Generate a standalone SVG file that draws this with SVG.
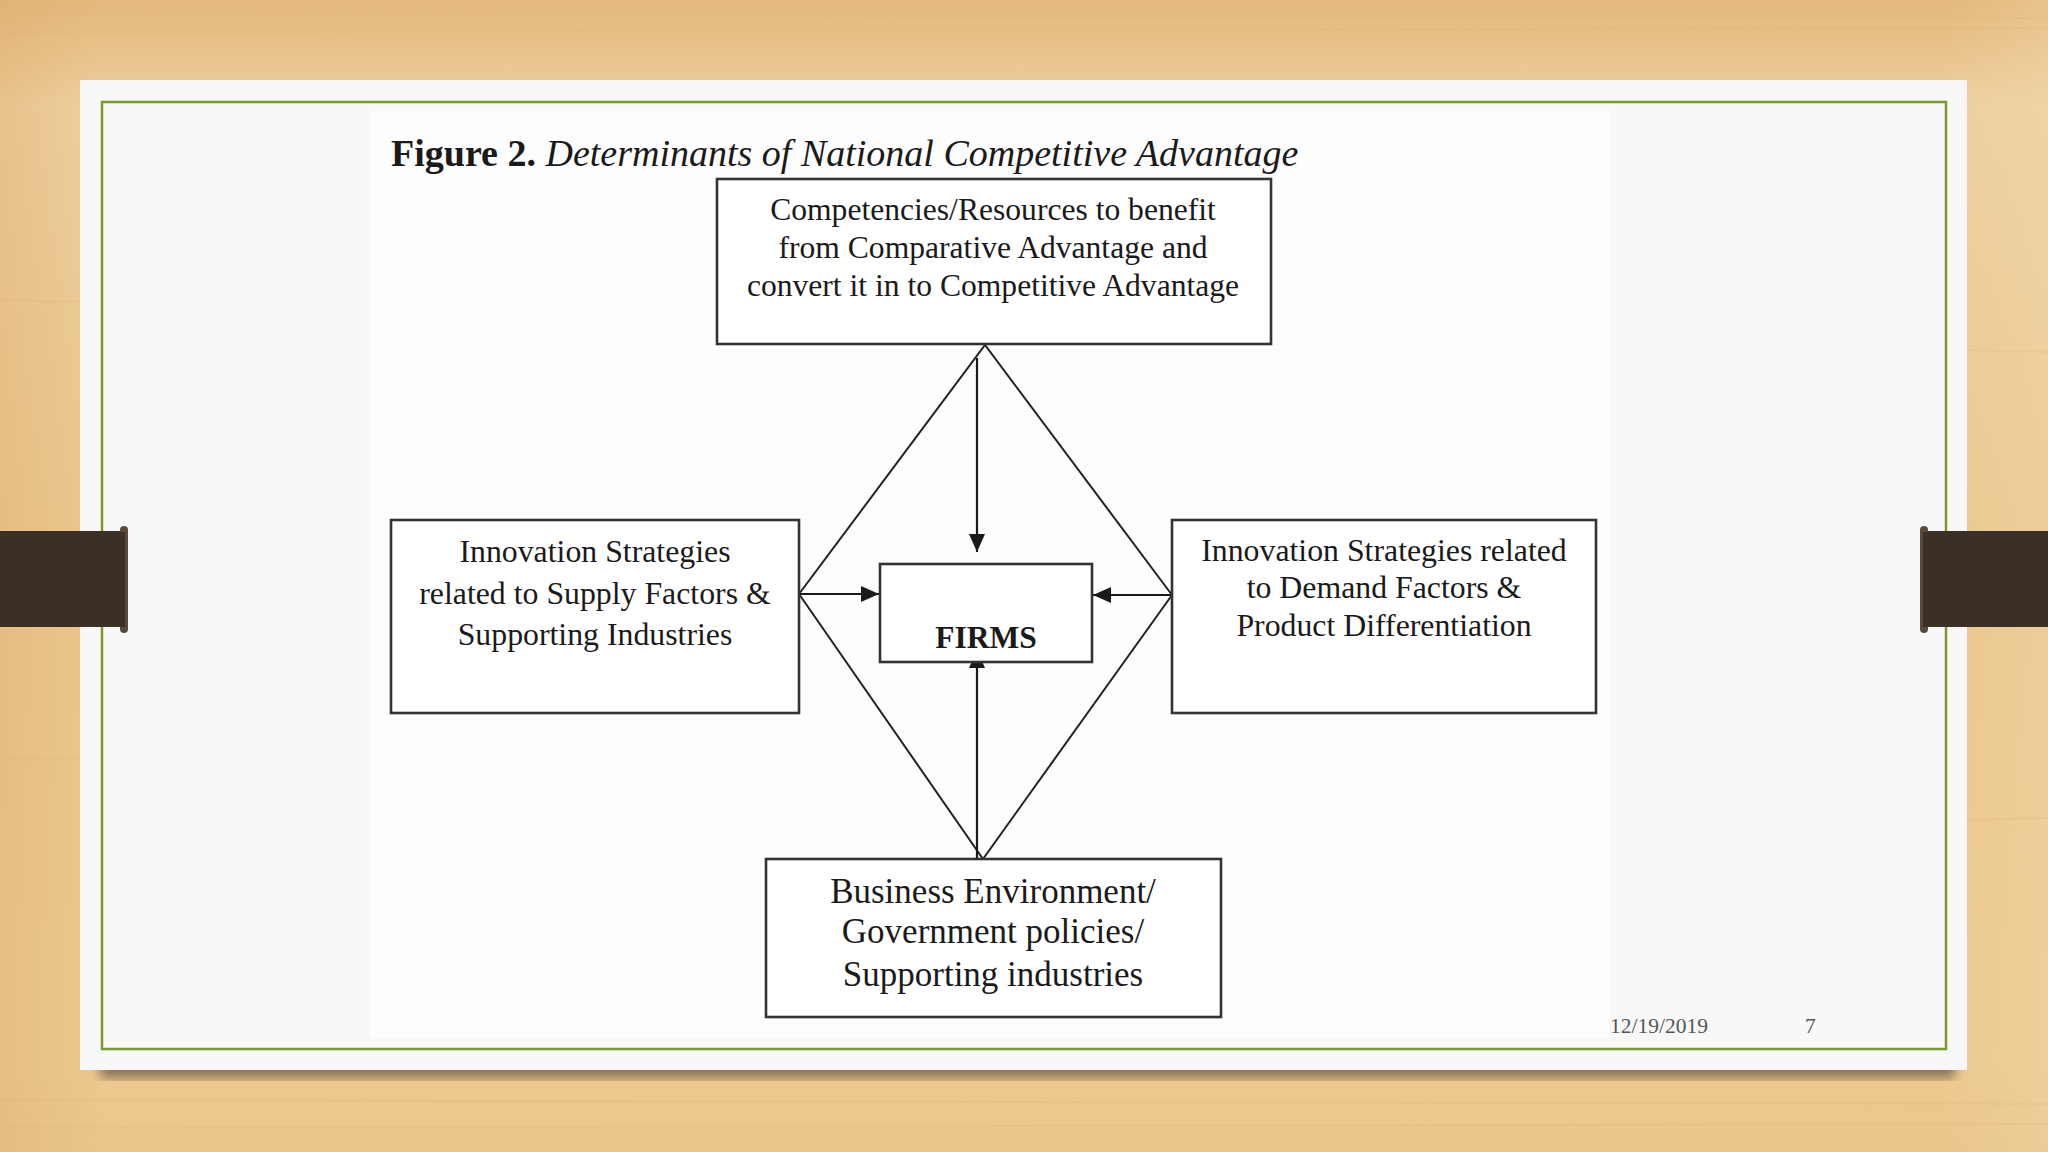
<svg xmlns="http://www.w3.org/2000/svg" width="2048" height="1152" viewBox="0 0 2048 1152">
  <defs>
    <linearGradient id="wood" x1="0" y1="0" x2="0" y2="1">
      <stop offset="0" stop-color="#e3b87c"/>
      <stop offset="0.04" stop-color="#e8c28a"/>
      <stop offset="0.09" stop-color="#eed09f"/>
      <stop offset="0.5" stop-color="#eac78e"/>
      <stop offset="0.92" stop-color="#ecca90"/>
      <stop offset="1" stop-color="#e9c68c"/>
    </linearGradient>
    <linearGradient id="woodSide" x1="0" y1="0" x2="1" y2="0">
      <stop offset="0" stop-color="#dba969" stop-opacity="0.35"/>
      <stop offset="0.05" stop-color="#dba969" stop-opacity="0"/>
      <stop offset="0.95" stop-color="#f3dcb0" stop-opacity="0"/>
      <stop offset="1" stop-color="#f3dcb0" stop-opacity="0.3"/>
    </linearGradient>
    <filter id="shadow" x="-5%" y="-5%" width="110%" height="120%">
      <feGaussianBlur stdDeviation="6"/>
    </filter>
    <marker id="arrow" viewBox="0 0 18 16" refX="18" refY="8" markerWidth="18" markerHeight="16" markerUnits="userSpaceOnUse" orient="auto">
      <path d="M0,0 L18,8 L0,16 Z" fill="#1a1a1a"/>
    </marker>
    <style>
      .box { fill: #ffffff; stroke: #333333; stroke-width: 2.6; }
      .txt { font-family: "Liberation Serif", "Times New Roman", serif; fill: #1a1a1a; text-anchor: middle; }
      .line { stroke: #222222; stroke-width: 2; fill: none; }
      .arr { stroke: #1a1a1a; stroke-width: 2.2; fill: none; marker-end: url(#arrow); }
      .tab { fill: #3b2f26; }
      .cap { fill: #5a4a3b; }
      .foot { font-family: "Liberation Serif", "Times New Roman", serif; font-size: 21.5px; fill: #555555; }
    </style>
  </defs>

  <!-- wood background -->
  <rect x="0" y="0" width="2048" height="1152" fill="url(#wood)"/>
  <rect x="0" y="0" width="2048" height="1152" fill="url(#woodSide)"/>
  <g stroke="#d9ad6e" stroke-opacity="0.18" stroke-width="2">
    <line x1="0" y1="14" x2="2048" y2="18"/>
    <line x1="0" y1="32" x2="2048" y2="28"/>
    <line x1="0" y1="1100" x2="2048" y2="1104"/>
    <line x1="0" y1="1128" x2="2048" y2="1124"/>
    <line x1="0" y1="300" x2="80" y2="302"/>
    <line x1="0" y1="760" x2="80" y2="758"/>
    <line x1="1967" y1="350" x2="2048" y2="352"/>
    <line x1="1967" y1="820" x2="2048" y2="818"/>
  </g>

  <!-- slide card -->
  <rect x="100" y="1060" width="1855" height="18" fill="#6b5a45" opacity="0.8" filter="url(#shadow)"/>
  <rect x="80" y="80" width="1887" height="990" fill="#f8f8f9"/>
  <rect x="102" y="102" width="1844" height="947" fill="none" stroke="#7c9a2c" stroke-width="2.5"/>
  <rect x="370" y="111" width="1239" height="927" fill="#fdfdfd"/>

  <!-- side tabs -->
  <g id="tab-left">
    <rect class="tab" x="0" y="531" width="125" height="96"/>
    <rect class="cap" x="120" y="526" width="8" height="107" rx="4"/>
    <rect class="tab" x="118" y="532" width="7" height="95"/>
  </g>
  <g id="tab-right">
    <rect class="tab" x="1923" y="531" width="125" height="96"/>
    <rect class="cap" x="1920" y="526" width="8" height="107" rx="4"/>
    <rect class="tab" x="1923" y="532" width="7" height="95"/>
  </g>

  <!-- title -->
  <text id="title" x="391" y="166" font-family="'Liberation Serif', 'Times New Roman', serif" font-size="38" fill="#1a1a1a"><tspan font-weight="bold">Figure 2. </tspan><tspan font-style="italic">Determinants of National Competitive Advantage</tspan></text>

  <!-- connectors -->
  <g id="connectors">
    <polyline class="line" points="799,594 985,345 1172,595"/>
    <polyline class="line" points="799,594 983,859 1172,595"/>
    <line class="arr" x1="977" y1="358" x2="977" y2="552"/>
    <line class="arr" x1="977" y1="858" x2="977" y2="650"/>
    <line class="arr" x1="799" y1="594" x2="879" y2="594"/>
    <line class="arr" x1="1172" y1="595" x2="1093" y2="595"/>
  </g>

  <!-- nodes -->
  <g id="node-top">
    <rect class="box" x="717" y="179" width="554" height="165"/>
    <text class="txt" font-size="31.6" x="993" y="220">Competencies/Resources to benefit</text>
    <text class="txt" font-size="31.6" x="993" y="258">from Comparative Advantage and</text>
    <text class="txt" font-size="31.6" x="993" y="296">convert it in to Competitive Advantage</text>
  </g>
  <g id="node-left">
    <rect class="box" x="391" y="520" width="408" height="193"/>
    <text class="txt" font-size="31.8" x="595" y="562">Innovation Strategies</text>
    <text class="txt" font-size="31.8" x="595" y="604">related to Supply Factors &amp;</text>
    <text class="txt" font-size="31.8" x="595" y="645">Supporting Industries</text>
  </g>
  <g id="node-right">
    <rect class="box" x="1172" y="520" width="424" height="193"/>
    <text class="txt" font-size="31.8" x="1384" y="561">Innovation Strategies related</text>
    <text class="txt" font-size="31.8" x="1384" y="598">to Demand Factors &amp;</text>
    <text class="txt" font-size="31.8" x="1384" y="636">Product Differentiation</text>
  </g>
  <g id="node-firms">
    <rect class="box" x="880" y="564" width="212" height="98"/>
    <text class="txt" font-size="31.5" font-weight="bold" x="986" y="648">FIRMS</text>
  </g>
  <g id="node-bottom">
    <rect class="box" x="766" y="859" width="455" height="158"/>
    <text class="txt" font-size="35" x="993" y="903">Business Environment/</text>
    <text class="txt" font-size="35" x="993" y="943">Government policies/</text>
    <text class="txt" font-size="35" x="993" y="986">Supporting industries</text>
  </g>

  <!-- footer -->
  <text class="foot" x="1610" y="1033">12/19/2019</text>
  <text class="foot" x="1805" y="1033">7</text>
</svg>
